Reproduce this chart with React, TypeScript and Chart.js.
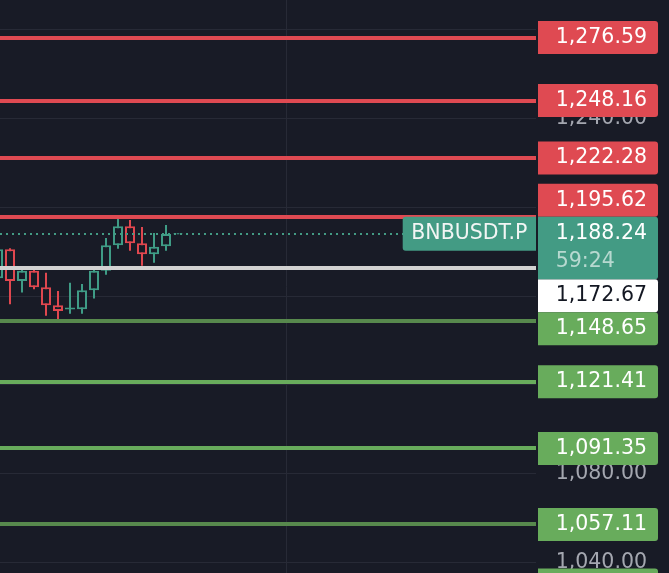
import React, { useEffect, useRef } from 'react';
import { Chart, registerables } from 'chart.js';

Chart.register(...registerables);

// ---- data ----
const CANDLE_INDEX = [0, 1, 2, 3, 4, 5, 6, 7, 8, 9, 10, 11, 12, 13, 14, 15];
const OPENS = [1168.1, 1181.1, 1166.8, 1171.4, 1164.0, 1155.9, 1154.0, 1154.1, 1162.7, 1171.4, 1182.9, 1191.5, 1183.8, 1178.9, 1182.5, 1187.85];
const CLOSES = [1181.1, 1166.8, 1171.4, 1164.0, 1155.9, 1153.3, 1154.9, 1162.7, 1171.4, 1182.9, 1191.5, 1183.8, 1178.9, 1182.3, 1188.0, 1188.24];
const HIGHS = [1183.5, 1181.6, 1173.2, 1171.8, 1170.5, 1162.3, 1166.0, 1165.5, 1172.3, 1186.2, 1195.2, 1194.3, 1191.2, 1188.5, 1192.1, 1188.4];
const LOWS = [1165.5, 1156.3, 1161.6, 1163.1, 1151.2, 1148.8, 1152.1, 1152.1, 1158.9, 1169.7, 1181.4, 1180.5, 1173.7, 1175.1, 1180.5, 1187.9];

const RESISTANCE_LEVELS = [1276.59, 1248.16, 1222.28, 1195.62];
const SUPPORT_LEVELS = [1148.65, 1121.41, 1091.35, 1057.11, 1029.8];
const SUPPORT_BRIGHT = [false, true, true, false, true];
const PIVOT_LEVEL = 1172.67;
const LAST_PRICE = 1188.24;
const SYMBOL = 'BNBUSDT.P';
const COUNTDOWN = '59:24';

const Y_TICKS = [1040, 1080, 1120, 1160, 1200, 1240, 1280];
const X_GRID = [24];

const Y_MIN = 1035.2;
const Y_MAX = 1293.5;
const X_MIN = 1 / 6;
const X_MAX = X_MIN + 536 / 12;

// ---- styles ----
const BG = '#181b26';
const GRID = '#272a36';
const RED = '#df4a52';
const GREEN_BRIGHT = '#68ac5c';
const GREEN_DIM = '#57894d';
const GREEN_LABEL = '#68ac5c';
const TEAL = '#439b84';
const CANDLE_UP = '#3f9c86';
const CANDLE_DOWN = '#e0474f';
const PIVOT_LINE = '#d2d2d2';
const AXIS_TEXT = '#a4a7b0';
const FONT = '"DejaVu Sans", sans-serif';

const fmt = (v: number) =>
  v.toLocaleString('en-US', { minimumFractionDigits: 2, maximumFractionDigits: 2 });

export default function App() {
  const ref = useRef<HTMLCanvasElement | null>(null);

  useEffect(() => {
    document.body.style.margin = '0';
    document.body.style.background = BG;
    const canvas = ref.current!;
    const colors = CANDLE_INDEX.map((_, i) => (CLOSES[i] >= OPENS[i] ? CANDLE_UP : CANDLE_DOWN));

    const overlay = {
      id: 'overlay',
      beforeDraw(chart: any) {
        const { ctx, width, height } = chart;
        ctx.save();
        ctx.fillStyle = BG;
        ctx.fillRect(0, 0, width, height);
        ctx.restore();
      },
      afterDatasetsDraw(chart: any) {
        const { ctx, chartArea: a, scales } = chart;
        const y = scales.y;
        ctx.save();
        ctx.beginPath();
        ctx.rect(a.left, a.top, a.right - a.left, a.bottom - a.top);
        ctx.clip();
        const hline = (price: number, color: string, width: number, dash: number[] = []) => {
          const py = Math.round(y.getPixelForValue(price));
          ctx.beginPath();
          ctx.setLineDash(dash);
          ctx.strokeStyle = color;
          ctx.lineWidth = width;
          ctx.moveTo(a.left, py);
          ctx.lineTo(a.right, py);
          ctx.stroke();
        };
        RESISTANCE_LEVELS.forEach((p) => hline(p, RED, 4));
        SUPPORT_LEVELS.forEach((p, i) => hline(p, SUPPORT_BRIGHT[i] ? GREEN_BRIGHT : GREEN_DIM, 4));
        hline(PIVOT_LEVEL, PIVOT_LINE, 4);
        hline(LAST_PRICE, TEAL, 2, [2, 4]);
        ctx.restore();
      },
      afterDraw(chart: any) {
        const { ctx, chartArea: a, scales } = chart;
        const y = scales.y;
        const H = 33;
        const boxL = a.right + 2;
        const boxW = 120;
        const textR = a.right + 111;
        const yl = y.getPixelForValue(LAST_PRICE);
        const cur = { top: yl - 16.8, h: 62.6 };

        type Lab = { price: number; bg: string; fg: string; top: number };
        const labs: Lab[] = [];
        RESISTANCE_LEVELS.forEach((p) => labs.push({ price: p, bg: RED, fg: '#ffffff', top: y.getPixelForValue(p) - H / 2 }));
        labs.push({ price: PIVOT_LEVEL, bg: '#ffffff', fg: '#131722', top: y.getPixelForValue(PIVOT_LEVEL) - H / 2 });
        SUPPORT_LEVELS.forEach((p) => labs.push({ price: p, bg: GREEN_LABEL, fg: '#ffffff', top: y.getPixelForValue(p) - H / 2 }));

        const above = labs.filter((l) => l.price > LAST_PRICE).sort((p, q) => q.top - p.top);
        const below = labs.filter((l) => l.price < LAST_PRICE).sort((p, q) => p.top - q.top);
        let lim = cur.top;
        above.forEach((l) => {
          if (l.top + H > lim) l.top = lim - H;
          lim = l.top;
        });
        lim = cur.top + cur.h;
        below.forEach((l) => {
          if (l.top < lim) l.top = lim;
          lim = l.top + H;
        });

        ctx.save();
        ctx.font = `20.5px ${FONT}`;
        ctx.textBaseline = 'middle';

        // axis tick labels (from the y scale's ticks), hidden where a price label sits
        const covered = (py: number) =>
          (py >= cur.top && py <= cur.top + cur.h) || labs.some((l) => py >= l.top && py <= l.top + H);
        ctx.fillStyle = AXIS_TEXT;
        ctx.textAlign = 'right';
        y.ticks.forEach((t: any) => {
          const py = y.getPixelForValue(t.value);
          if (!covered(py)) ctx.fillText(fmt(t.value), textR, py);
        });

        const box = (x: number, t: number, w: number, h: number, r: number[], fill: string) => {
          ctx.beginPath();
          ctx.fillStyle = fill;
          (ctx as any).roundRect(x, t, w, h, r);
          ctx.fill();
        };
        labs.forEach((l) => {
          box(boxL, l.top, boxW, H, [0, 3, 3, 0], l.bg);
          ctx.fillStyle = l.fg;
          ctx.textAlign = 'right';
          ctx.fillText(fmt(l.price), textR, l.top + H / 2);
        });

        // current price label with countdown
        box(boxL, cur.top, boxW, cur.h, [0, 3, 3, 0], TEAL);
        ctx.fillStyle = '#ffffff';
        ctx.textAlign = 'right';
        const pt = fmt(LAST_PRICE);
        ctx.fillText(pt, textR, yl);
        const w = ctx.measureText(pt).width;
        ctx.fillStyle = 'rgba(255,255,255,0.62)';
        ctx.textAlign = 'left';
        ctx.fillText(COUNTDOWN, textR - w, yl + 28);

        // symbol label
        const sx = a.right - 133.3;
        box(sx, cur.top, 133.3, 34, [3, 0, 0, 3], TEAL);
        ctx.fillStyle = '#f2f5f4';
        ctx.textAlign = 'center';
        ctx.fillText(SYMBOL, sx + 133.3 / 2, cur.top + 17);
        ctx.restore();
      },
    };

    const chart = new Chart(canvas, {
      type: 'bar',
      data: {
        datasets: [
          {
            label: 'body',
            data: CANDLE_INDEX.map((x, i) => ({ x, y: [OPENS[i], CLOSES[i]] })) as any,
            backgroundColor: BG,
            borderColor: colors,
            borderWidth: 2,
            borderSkipped: false,
            grouped: false,
            barPercentage: 10 / 12,
            categoryPercentage: 1,
            order: 0,
          } as any,
          {
            label: 'wick',
            data: CANDLE_INDEX.map((x, i) => ({ x, y: [LOWS[i], HIGHS[i]] })) as any,
            backgroundColor: colors,
            borderWidth: 0,
            grouped: false,
            barPercentage: 2 / 12,
            categoryPercentage: 1,
            order: 1,
          } as any,
        ],
      },
      options: {
        responsive: false,
        animation: false,
        devicePixelRatio: 1,
        layout: { padding: 0 },
        plugins: { legend: { display: false }, tooltip: { enabled: false } },
        scales: {
          x: {
            type: 'linear',
            offset: false,
            min: X_MIN,
            max: X_MAX,
            afterBuildTicks: (s: any) => {
              s.ticks = X_GRID.map((v) => ({ value: v }));
            },
            ticks: { display: false },
            grid: { color: GRID, lineWidth: 1, drawTicks: false, offset: false },
            border: { display: false },
          },
          y: {
            type: 'linear',
            position: 'right',
            min: Y_MIN,
            max: Y_MAX,
            afterBuildTicks: (s: any) => {
              s.ticks = Y_TICKS.map((v) => ({ value: v }));
            },
            afterFit: (s: any) => {
              s.width = 133;
            },
            ticks: { display: false },
            grid: { color: GRID, lineWidth: 1, drawTicks: false },
            border: { display: false },
          },
        },
      },
      plugins: [overlay],
    } as any);
    return () => chart.destroy();
  }, []);

  return <canvas ref={ref} width={669} height={573} style={{ display: 'block' }} />;
}
